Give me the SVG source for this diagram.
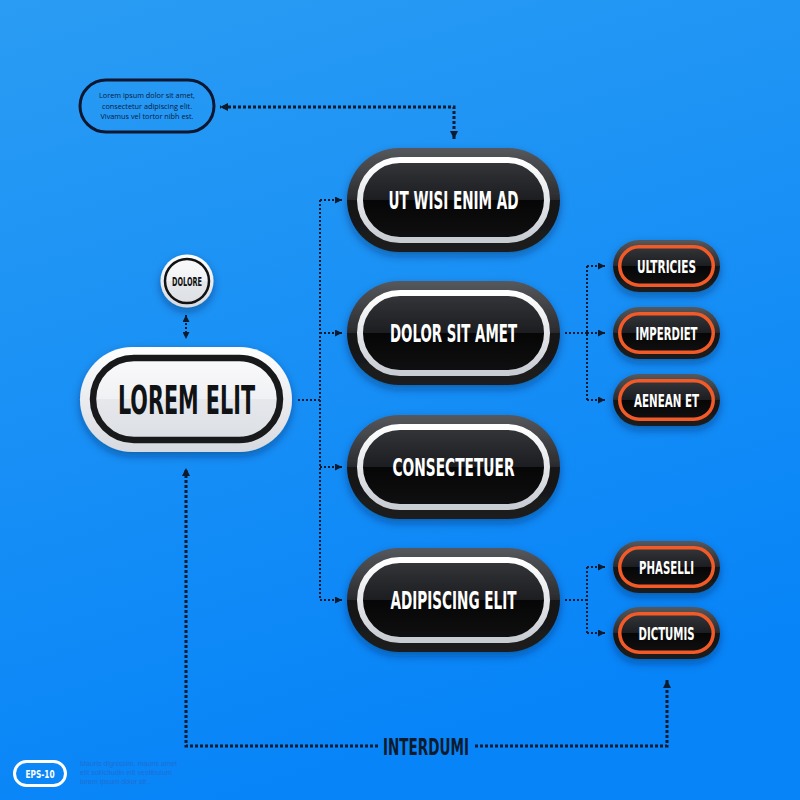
<svg xmlns="http://www.w3.org/2000/svg" width="800" height="800" viewBox="0 0 800 800">
<defs>
<linearGradient id="bg" x1="0" y1="0" x2="0.3" y2="1">
<stop offset="0" stop-color="#2a9cf3"/>
<stop offset="1" stop-color="#0784f8"/>
</linearGradient>
<linearGradient id="rim" x1="0" y1="0" x2="0" y2="1">
<stop offset="0" stop-color="#55585d"/>
<stop offset="0.5" stop-color="#2a2b2e"/>
<stop offset="0.5" stop-color="#141415"/>
<stop offset="1" stop-color="#1d1e20"/>
</linearGradient>
<linearGradient id="inner" x1="0" y1="0" x2="0" y2="1">
<stop offset="0" stop-color="#34363a"/>
<stop offset="0.5" stop-color="#1c1d20"/>
<stop offset="0.5" stop-color="#060606"/>
<stop offset="1" stop-color="#101012"/>
</linearGradient>
<linearGradient id="ring" x1="0" y1="0" x2="0" y2="1">
<stop offset="0" stop-color="#ffffff"/>
<stop offset="1" stop-color="#c8ccd3"/>
</linearGradient>
<linearGradient id="white" x1="0" y1="0" x2="0" y2="1">
<stop offset="0" stop-color="#ffffff"/>
<stop offset="1" stop-color="#d6d9df"/>
</linearGradient>
<linearGradient id="light" x1="0" y1="0" x2="0" y2="1">
<stop offset="0" stop-color="#fafafc"/>
<stop offset="0.5" stop-color="#f0f1f4"/>
<stop offset="0.5" stop-color="#e6e8ec"/>
<stop offset="1" stop-color="#dcdfe4"/>
</linearGradient>
<filter id="sh" x="-20%" y="-20%" width="140%" height="160%">
<feDropShadow dx="0" dy="4" stdDeviation="4" flood-color="#001a40" flood-opacity="0.4"/>
</filter>
<marker id="ab" viewBox="0 0 8 8" refX="8" refY="4" markerWidth="8" markerHeight="8" markerUnits="userSpaceOnUse" orient="auto-start-reverse">
<path d="M0,0 L8,4 L0,8 z" fill="#0d1b2e"/>
</marker>
<marker id="at" viewBox="0 0 8 8" refX="8" refY="4" markerWidth="7" markerHeight="7" markerUnits="userSpaceOnUse" orient="auto-start-reverse">
<path d="M0,0 L8,4 L0,8 z" fill="#0d1b2e"/>
</marker>
</defs>
<style>
.bold{fill:none;stroke:#0d1b2e;stroke-width:3;stroke-dasharray:3 2}
.thin{fill:none;stroke:#0d1b2e;stroke-width:2;stroke-dasharray:2 2}
.lbl{font-family:"Liberation Sans Narrow","DejaVu Sans Condensed","Liberation Sans",sans-serif;font-weight:bold;text-anchor:middle}
.w{fill:#ffffff}
.k{fill:#111214}
.rim{fill:url(#rim);filter:url(#sh)}
.inw{fill:url(#inner);stroke:url(#ring);stroke-width:6}
.ino{fill:url(#inner);stroke:#f25a27;stroke-width:3.5}
.note{font-family:"Open Sans","Liberation Sans",sans-serif;font-size:7.3px;fill:#0a1a3c;text-anchor:middle}
.foot{font-family:"Liberation Sans",sans-serif;font-size:7.2px;fill:#1f6fd2}
</style>
<rect x="0" y="0" width="800" height="800" fill="url(#bg)"/>

<g id="connectors">
<path class="bold" d="M454,139 V107 H220" marker-start="url(#ab)" marker-end="url(#ab)"/>
<path class="thin" d="M186,315 V339" marker-start="url(#at)" marker-end="url(#at)"/>
<path class="bold" d="M378,746 H186 V468" marker-end="url(#ab)"/>
<path class="bold" d="M475,746 H667 V680" marker-end="url(#ab)"/>
<path class="thin" d="M298,400 H320 M320,200 V600"/>
<path class="thin" d="M320,200 H342" marker-end="url(#at)"/>
<path class="thin" d="M320,333 H342" marker-end="url(#at)"/>
<path class="thin" d="M320,467 H342" marker-end="url(#at)"/>
<path class="thin" d="M320,600 H342" marker-end="url(#at)"/>
<path class="thin" d="M565,333 H587 M587,266 V400"/>
<path class="thin" d="M587,266 H605" marker-end="url(#at)"/>
<path class="thin" d="M587,333 H605" marker-end="url(#at)"/>
<path class="thin" d="M587,400 H605" marker-end="url(#at)"/>
<path class="thin" d="M565,600 H587 M587,567 V633"/>
<path class="thin" d="M587,567 H605" marker-end="url(#at)"/>
<path class="thin" d="M587,633 H605" marker-end="url(#at)"/>
<text x="426" y="755" class="lbl" style="fill:#0d1b2e" font-size="23" textLength="86" lengthAdjust="spacingAndGlyphs">INTERDUMI</text>
</g>

<g id="note">
<rect x="80" y="80" width="134" height="52" rx="26" fill="none" stroke="#0b1730" stroke-width="3"/>
<text x="147" y="98" class="note">Lorem ipsum dolor sit amet,</text>
<text x="147" y="108.5" class="note">consectetur adipiscing elit.</text>
<text x="147" y="119" class="note">Vivamus vel tortor nibh est.</text>
</g>

<g id="dolore">
<circle cx="187" cy="281" r="26.5" fill="url(#white)" filter="url(#sh)"/>
<circle cx="187" cy="281" r="22" fill="url(#light)" stroke="#111214" stroke-width="2.5"/>
<text x="187" y="285.5" class="lbl k" font-size="12.5" textLength="30" lengthAdjust="spacingAndGlyphs">DOLORE</text>
</g>

<g id="lorem-elit">
<rect x="80" y="347" width="212" height="105" rx="52.5" fill="url(#white)" filter="url(#sh)"/>
<rect x="93" y="358" width="187" height="82" rx="41" fill="url(#light)" stroke="#18191b" stroke-width="6.5"/>
<text x="186.5" y="413.5" class="lbl k" font-size="39" textLength="137" lengthAdjust="spacingAndGlyphs">LOREM ELIT</text>
</g>

<g id="ut-wisi">
<rect x="347" y="148" width="213" height="104" rx="52" class="rim"/>
<rect x="360" y="160" width="187" height="80" rx="40" class="inw"/>
<text x="453.5" y="209" class="lbl w" font-size="25" textLength="130" lengthAdjust="spacingAndGlyphs">UT WISI ENIM AD</text>
</g>

<g id="dolor-sit-amet">
<rect x="347" y="281" width="213" height="104" rx="52" class="rim"/>
<rect x="360" y="293" width="187" height="80" rx="40" class="inw"/>
<text x="453.5" y="342" class="lbl w" font-size="25" textLength="127" lengthAdjust="spacingAndGlyphs">DOLOR SIT AMET</text>
</g>

<g id="consectetuer">
<rect x="347" y="415" width="213" height="104" rx="52" class="rim"/>
<rect x="360" y="427" width="187" height="80" rx="40" class="inw"/>
<text x="453.5" y="476" class="lbl w" font-size="25" textLength="122" lengthAdjust="spacingAndGlyphs">CONSECTETUER</text>
</g>

<g id="adipiscing-elit">
<rect x="347" y="548" width="213" height="104" rx="52" class="rim"/>
<rect x="360" y="560" width="187" height="80" rx="40" class="inw"/>
<text x="453.5" y="609" class="lbl w" font-size="25" textLength="126" lengthAdjust="spacingAndGlyphs">ADIPISCING ELIT</text>
</g>

<g id="ultricies">
<rect x="613" y="240" width="107" height="52" rx="26" class="rim"/>
<rect x="619.75" y="246.75" width="93.5" height="38.5" rx="19.25" class="ino"/>
<text x="666.5" y="272.5" class="lbl w" font-size="18" textLength="59" lengthAdjust="spacingAndGlyphs">ULTRICIES</text>
</g>

<g id="imperdiet">
<rect x="613" y="307" width="107" height="52" rx="26" class="rim"/>
<rect x="619.75" y="313.75" width="93.5" height="38.5" rx="19.25" class="ino"/>
<text x="666.5" y="339.5" class="lbl w" font-size="18" textLength="62" lengthAdjust="spacingAndGlyphs">IMPERDIET</text>
</g>

<g id="aenean-et">
<rect x="613" y="374" width="107" height="52" rx="26" class="rim"/>
<rect x="619.75" y="380.75" width="93.5" height="38.5" rx="19.25" class="ino"/>
<text x="666.5" y="406.5" class="lbl w" font-size="18" textLength="65" lengthAdjust="spacingAndGlyphs">AENEAN ET</text>
</g>

<g id="phaselli">
<rect x="613" y="541" width="107" height="52" rx="26" class="rim"/>
<rect x="619.75" y="547.75" width="93.5" height="38.5" rx="19.25" class="ino"/>
<text x="666.5" y="573.5" class="lbl w" font-size="18" textLength="55" lengthAdjust="spacingAndGlyphs">PHASELLI</text>
</g>

<g id="dictumis">
<rect x="613" y="607" width="107" height="52" rx="26" class="rim"/>
<rect x="619.75" y="613.75" width="93.5" height="38.5" rx="19.25" class="ino"/>
<text x="666.5" y="639.5" class="lbl w" font-size="18" textLength="56" lengthAdjust="spacingAndGlyphs">DICTUMIS</text>
</g>

<g id="footer">
<rect x="14.5" y="761.5" width="51" height="24" rx="12" fill="none" stroke="#ffffff" stroke-width="3"/>
<text x="40" y="777.5" class="lbl w" font-size="11" textLength="29" lengthAdjust="spacingAndGlyphs">EPS-10</text>
<text x="80" y="766" class="foot">Mauris dignissim, mauris amet</text>
<text x="80" y="775" class="foot">elit sollicitudin elit vestibulum</text>
<text x="80" y="784" class="foot">lorem ipsum dolor sit .</text>
</g>
</svg>
